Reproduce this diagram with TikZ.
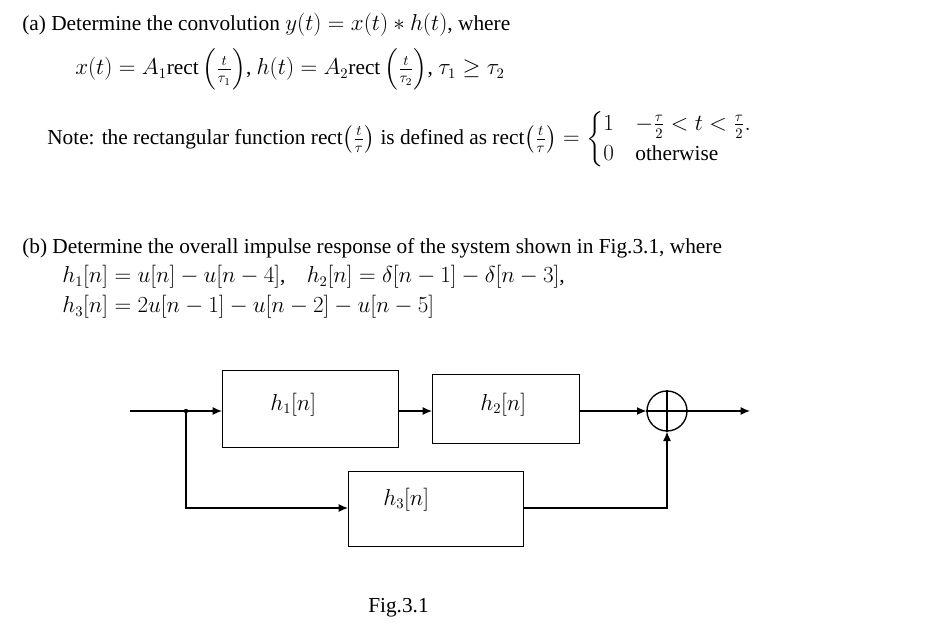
\documentclass[tikz,border=0pt]{standalone}
\usepackage{amsmath}
\usepackage{fontspec}
\setmainfont{Liberation Serif}
\usetikzlibrary{arrows.meta}
\begin{document}
\begin{tikzpicture}[x=0.75pt,y=-0.75pt,
  txt/.style={anchor=base west,inner sep=0pt,font=\fontsize{16}{19}\selectfont},
  blk/.style={draw,line width=0.5pt,inner sep=0pt,anchor=north west},
  arr/.style={-{Latex[length=7pt,width=6pt]},line width=0.9pt}]
\useasboundingbox (0,0) rectangle (944,630);
\node[txt] (t1) at (22,31) {(a) Determine the convolution $y(t)=x(t)\ast h(t)$, where};
\node[txt] (t2) at (75,75) {$x(t)=A_1\mathrm{rect}\left(\frac{t}{\tau_1}\right)$, $h(t)=A_2\mathrm{rect}\left(\frac{t}{\tau_2}\right)$, $\tau_1\ge\tau_2$};
\node[txt] (t3) at (47,145) {Note: the rectangular function rect$\left(\frac{t}{\tau}\right)$ is defined as rect$\left(\frac{t}{\tau}\right)=\begin{cases}1 & -\frac{\tau}{2}<t<\frac{\tau}{2}.\\ 0 & \text{otherwise}\end{cases}$};
\node[txt] (t4) at (22,254) {(b) Determine the overall impulse response of the system shown in Fig.3.1, where};
\node[txt] (t5) at (62,283) {$h_1[n]=u[n]-u[n-4]$,\quad $h_2[n]=\delta[n-1]-\delta[n-3]$,};
\node[txt] (t6) at (62,313) {$h_3[n]=2u[n-1]-u[n-2]-u[n-5]$};
\node[blk,minimum width=176*0.75pt,minimum height=77*0.75pt] (h1) at (222,370) {};
\node[txt] at (270,410) {$h_1[n]$};
\node[blk,minimum width=147*0.75pt,minimum height=69*0.75pt] (h2) at (432,374) {};
\node[txt] at (480,410) {$h_2[n]$};
\node[blk,minimum width=175*0.75pt,minimum height=75*0.75pt] (h3) at (348,471) {};
\node[txt] at (383,505) {$h_3[n]$};
\node[draw,circle,line width=1pt,minimum size=40*0.75pt,inner sep=0pt] (s) at (667,411) {};
\draw[line width=1pt] (s.north)--(s.south) (s.west)--(s.east);
\coordinate (in) at (130,411);
\coordinate (br) at (186,411);
\coordinate (out) at (750,411);
\fill (br) circle (2.2);
\draw[arr] (in) -- (br) -- (h1.west|-br);
\draw[arr] (br) -- (186,508) -- (h3.west|-0,508);
\draw[arr] (h1.east|-br) -- (h2.west|-br);
\draw[arr] (h2.east|-br) -- (s.west);
\draw[arr] (h3.east|-0,508) -- (667,508) -- (s.south);
\draw[arr] (s.east) -- (out);
\node[txt] (f) at (368,612) {Fig.3.1};
\end{tikzpicture}
\end{document}
